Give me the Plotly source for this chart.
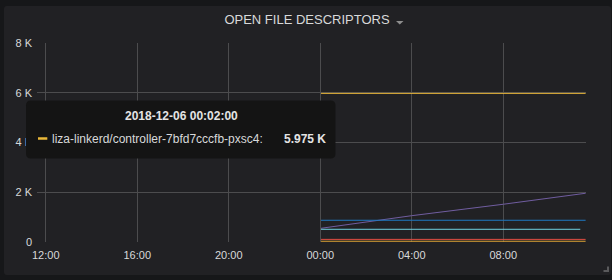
import plotly.graph_objects as go

# ---------------- data ----------------
series_names = [
    "liza-linkerd/controller-7bfd7cccfb-pxsc4",
    "liza-linkerd/grafana",
    "liza-linkerd/prometheus",
    "liza-linkerd/web",
    "liza-linkerd/proxy-injector",
    "liza-linkerd/ca",
]
series_colors = ["#EAB839", "#705DA0", "#1F78C1", "#6ED0E0", "#E24D42", "#DFA434"]
series_times = [
    ["2018-12-06 00:02", "2018-12-06 04:00", "2018-12-06 08:00", "2018-12-06 11:36"],
    ["2018-12-06 00:02", "2018-12-06 04:00", "2018-12-06 08:00", "2018-12-06 11:36"],
    ["2018-12-06 00:02", "2018-12-06 04:00", "2018-12-06 08:00", "2018-12-06 11:36"],
    ["2018-12-06 00:02", "2018-12-06 04:00", "2018-12-06 08:00", "2018-12-06 11:22"],
    ["2018-12-06 00:02", "2018-12-06 04:00", "2018-12-06 08:00", "2018-12-06 11:36"],
    ["2018-12-06 00:02", "2018-12-06 04:00", "2018-12-06 08:00", "2018-12-06 11:36"],
]
series_values = [
    [5975, 5975, 5975, 5975],
    [551, 1058, 1517, 1960],
    [873, 873, 873, 873],
    [511, 511, 511, 511],
    [105, 105, 105, 105],
    [30, 30, 30, 30],
]
x_tick_vals = ["2018-12-05 12:00", "2018-12-05 16:00", "2018-12-05 20:00",
               "2018-12-06 00:00", "2018-12-06 04:00", "2018-12-06 08:00"]
x_tick_text = ["12:00", "16:00", "20:00", "00:00", "04:00", "08:00"]
y_tick_vals = [0, 2000, 4000, 6000, 8000]
y_tick_text = ["0", "2 K", "4 K", "6 K", "8 K"]
x_range = ["2018-12-05 11:37", "2018-12-06 11:37"]
y_range = [0, 8000]
title_text = "OPEN FILE DESCRIPTORS"
tooltip_time = "2018-12-06 00:02:00"
tooltip_series = 0

# ---------------- layout geometry ----------------
W, H = 612, 280
ML, MR, MT, MB = 37, 26, 43, 38
PW, PH = W - ML - MR, H - MT - MB


def px(x):
    return (x - ML) / PW


def py(y):
    return (H - MB - y) / PH


def rounded_rect(x0, y0, x1, y1, r):
    rx, ry = r / PW, r / PH
    X0, X1, Y0, Y1 = px(x0), px(x1), py(y0), py(y1)  # Y0 top, Y1 bottom
    return (f"M{X0+rx},{Y0} L{X1-rx},{Y0} Q{X1},{Y0} {X1},{Y0-ry} "
            f"L{X1},{Y1+ry} Q{X1},{Y1} {X1-rx},{Y1} L{X0+rx},{Y1} "
            f"Q{X0},{Y1} {X0},{Y1+ry} L{X0},{Y0-ry} Q{X0},{Y0} {X0+rx},{Y0} Z")


def poly(points):
    return "M" + " L".join(f"{px(a)},{py(b)}" for a, b in points) + " Z"


FONT = "Liberation Sans, Arial, Helvetica, sans-serif"
TXT = "#d8d9da"

fig = go.Figure()
for name, color, t, v in zip(series_names, series_colors, series_times, series_values):
    fig.add_trace(go.Scatter(x=t, y=v, name=name, mode="lines",
                             line=dict(color=color, width=1), hoverinfo="skip"))

shapes = [
    # panel
    dict(type="path", xref="paper", yref="paper", path=rounded_rect(4, 6, 611, 275, 3),
         fillcolor="#212124", line=dict(width=0), layer="below"),
    # title caret
    dict(type="path", xref="paper", yref="paper",
         path=poly([(396, 21), (403.5, 21), (399.75, 24.5)]),
         fillcolor="#8e8e8e", line=dict(width=0), layer="above"),
    # resize handle
    dict(type="path", xref="paper", yref="paper",
         path=poly([(609, 266.5), (609, 272), (603.5, 272), (603.5, 270), (607, 270), (607, 266.5)]),
         fillcolor="#5a5a5c", line=dict(width=0), layer="above"),
    # tooltip box
    dict(type="path", xref="paper", yref="paper", path=rounded_rect(26, 100.5, 335.5, 158.5, 5),
         fillcolor="#141414", line=dict(width=0), layer="above"),
    # tooltip legend dash
    dict(type="line", xref="paper", yref="paper", x0=px(38), x1=px(47.3), y0=py(138.5), y1=py(138.5),
         line=dict(color=series_colors[tooltip_series], width=2.5), layer="above"),
]

val = series_values[tooltip_series][0]
val_text = f"{val/1000:.3f} K"
annotations = [
    dict(xref="paper", yref="paper", x=px(181), y=py(116), text=f"<b>{tooltip_time}</b>",
         showarrow=False, xanchor="center", yanchor="middle",
         font=dict(family=FONT, size=12, color="#e4e4e4")),
    dict(xref="paper", yref="paper", x=px(49.5), y=py(138.5), text=series_names[tooltip_series] + ":",
         showarrow=False, xanchor="left", yanchor="middle",
         font=dict(family=FONT, size=12, color=TXT)),
    dict(xref="paper", yref="paper", x=px(327.5), y=py(138.5), text=f"<b>{val_text}</b>",
         showarrow=False, xanchor="right", yanchor="middle",
         font=dict(family=FONT, size=12, color="#e4e4e4")),
]

fig.update_layout(
    width=W, height=H,
    margin=dict(l=ML, r=MR, t=MT, b=MB, pad=0),
    paper_bgcolor="#161719",
    plot_bgcolor="rgba(0,0,0,0)",
    showlegend=False,
    title=dict(text=title_text, x=307 / W, xref="container", xanchor="center",
               y=1 - 19 / H, yref="container", yanchor="middle",
               font=dict(family=FONT, size=13, color=TXT)),
    xaxis=dict(range=x_range, type="date", tickmode="array", tickvals=x_tick_vals,
               ticktext=x_tick_text, showgrid=True, gridcolor="#4c4c4e", gridwidth=1,
               zeroline=False, showline=False, ticks="", ticklabelstandoff=5,
               tickfont=dict(family=FONT, size=11, color=TXT), fixedrange=True),
    yaxis=dict(range=y_range, tickmode="array", tickvals=y_tick_vals, ticktext=y_tick_text,
               showgrid=True, gridcolor="#4c4c4e", gridwidth=1, zeroline=False,
               showline=False, ticks="", ticklabelstandoff=4,
               tickfont=dict(family=FONT, size=11, color=TXT), fixedrange=True),
    shapes=shapes,
    annotations=annotations,
)

fig.write_html("out.html", config=dict(displayModeBar=False))
